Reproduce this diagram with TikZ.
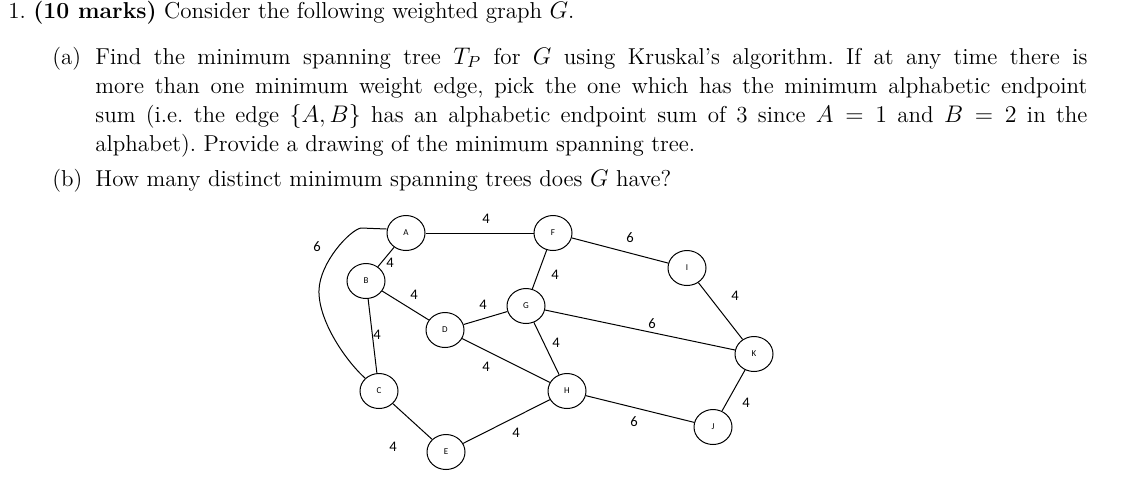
\documentclass[tikz,border=0pt]{standalone}
\usepackage{fontspec}
\newfontfamily\lab{Carlito}
\usetikzlibrary{shapes.geometric}
\begin{document}
\frenchspacing
\begin{tikzpicture}[x=0.5pt,y=-0.5pt,
  vtx/.style={draw,ellipse,line width=0.5pt,minimum width=19pt,minimum height=17.5pt,inner sep=0pt,font=\lab\fontsize{4.5}{5}\selectfont},
  wt/.style={font=\lab\fontsize{7.3}{8}\selectfont,inner sep=0pt},
  edge/.style={line width=0.5pt},
  txt/.style={anchor=base west,inner sep=0pt,font=\fontsize{11.5}{14.6}\selectfont}]
\useasboundingbox (0,0) rectangle (1131,479);
\node[txt] (t1) at (8,18) {1. \textbf{(10 marks)} Consider the following weighted graph $G$.};
\node[txt] (la) at (52,64) {(a)};
\node[txt,anchor=north west,text width=496pt,align=justify] (ta) at (95,47.5) {Find the minimum spanning tree $T_P$ for $G$ using Kruskal's algorithm. If at any time there is\linebreak more than one minimum weight edge, pick the one which has the minimum alphabetic endpoint\linebreak sum (i.e.\ the edge $\{A,B\}$ has an alphabetic endpoint sum of 3 since $A=1$ and $B=2$ in the\linebreak alphabet). Provide a drawing of the minimum spanning tree.};
\node[txt] (lb) at (52,186) {(b)};
\node[txt] (tb) at (95,186) {How many distinct minimum spanning trees does $G$ have?};
\node[vtx] (A) at (406,233) {A};
\node[vtx] (F) at (553,233) {F};
\node[vtx] (I) at (687,268) {I};
\node[vtx] (B) at (366,281) {B};
\node[vtx] (G) at (526,306) {G};
\node[vtx] (D) at (445,330) {D};
\node[vtx] (K) at (754,354) {K};
\node[vtx] (C) at (379,391) {C};
\node[vtx] (H) at (567,391) {H};
\node[vtx] (J) at (713,427) {J};
\node[vtx] (E) at (446,452) {E};
\draw[edge] (A)--(F); \draw[edge] (F)--(I); \draw[edge] (A)--(B);
\draw[edge] (F)--(G); \draw[edge] (B)--(D); \draw[edge] (D)--(G);
\draw[edge] (G)--(K); \draw[edge] (I)--(K); \draw[edge] (B)--(C);
\draw[edge] (G)--(H); \draw[edge] (D)--(H); \draw[edge] (K)--(J);
\draw[edge] (H)--(J); \draw[edge] (E)--(H); \draw[edge] (C)--(E);
\draw[edge] (A.west) ++(0,-4) coordinate (a0) -- (361,228) .. controls (350,230) and (320,262) .. (319,290) .. controls (318,320) and (345,360) .. (C.north west);
\node[wt] (w1) at (486,219) {4};
\node[wt] (w2) at (630,238) {6};
\node[wt] (w3) at (390,263) {4};
\node[wt] (w4) at (555,275) {4};
\node[wt] (w5) at (414,295) {4};
\node[wt] (w6) at (483,305) {4};
\node[wt] (w7) at (652,324) {6};
\node[wt] (w8) at (735,296) {4};
\node[wt] (w9) at (377,335) {4};
\node[wt] (w10) at (556,343) {4};
\node[wt] (w11) at (486,367) {4};
\node[wt] (w12) at (746,403) {4};
\node[wt] (w13) at (634,422) {6};
\node[wt] (w14) at (516,433) {4};
\node[wt] (w15) at (393,447) {4};
\node[wt] (w16) at (317,247) {6};
\end{tikzpicture}
\end{document}
